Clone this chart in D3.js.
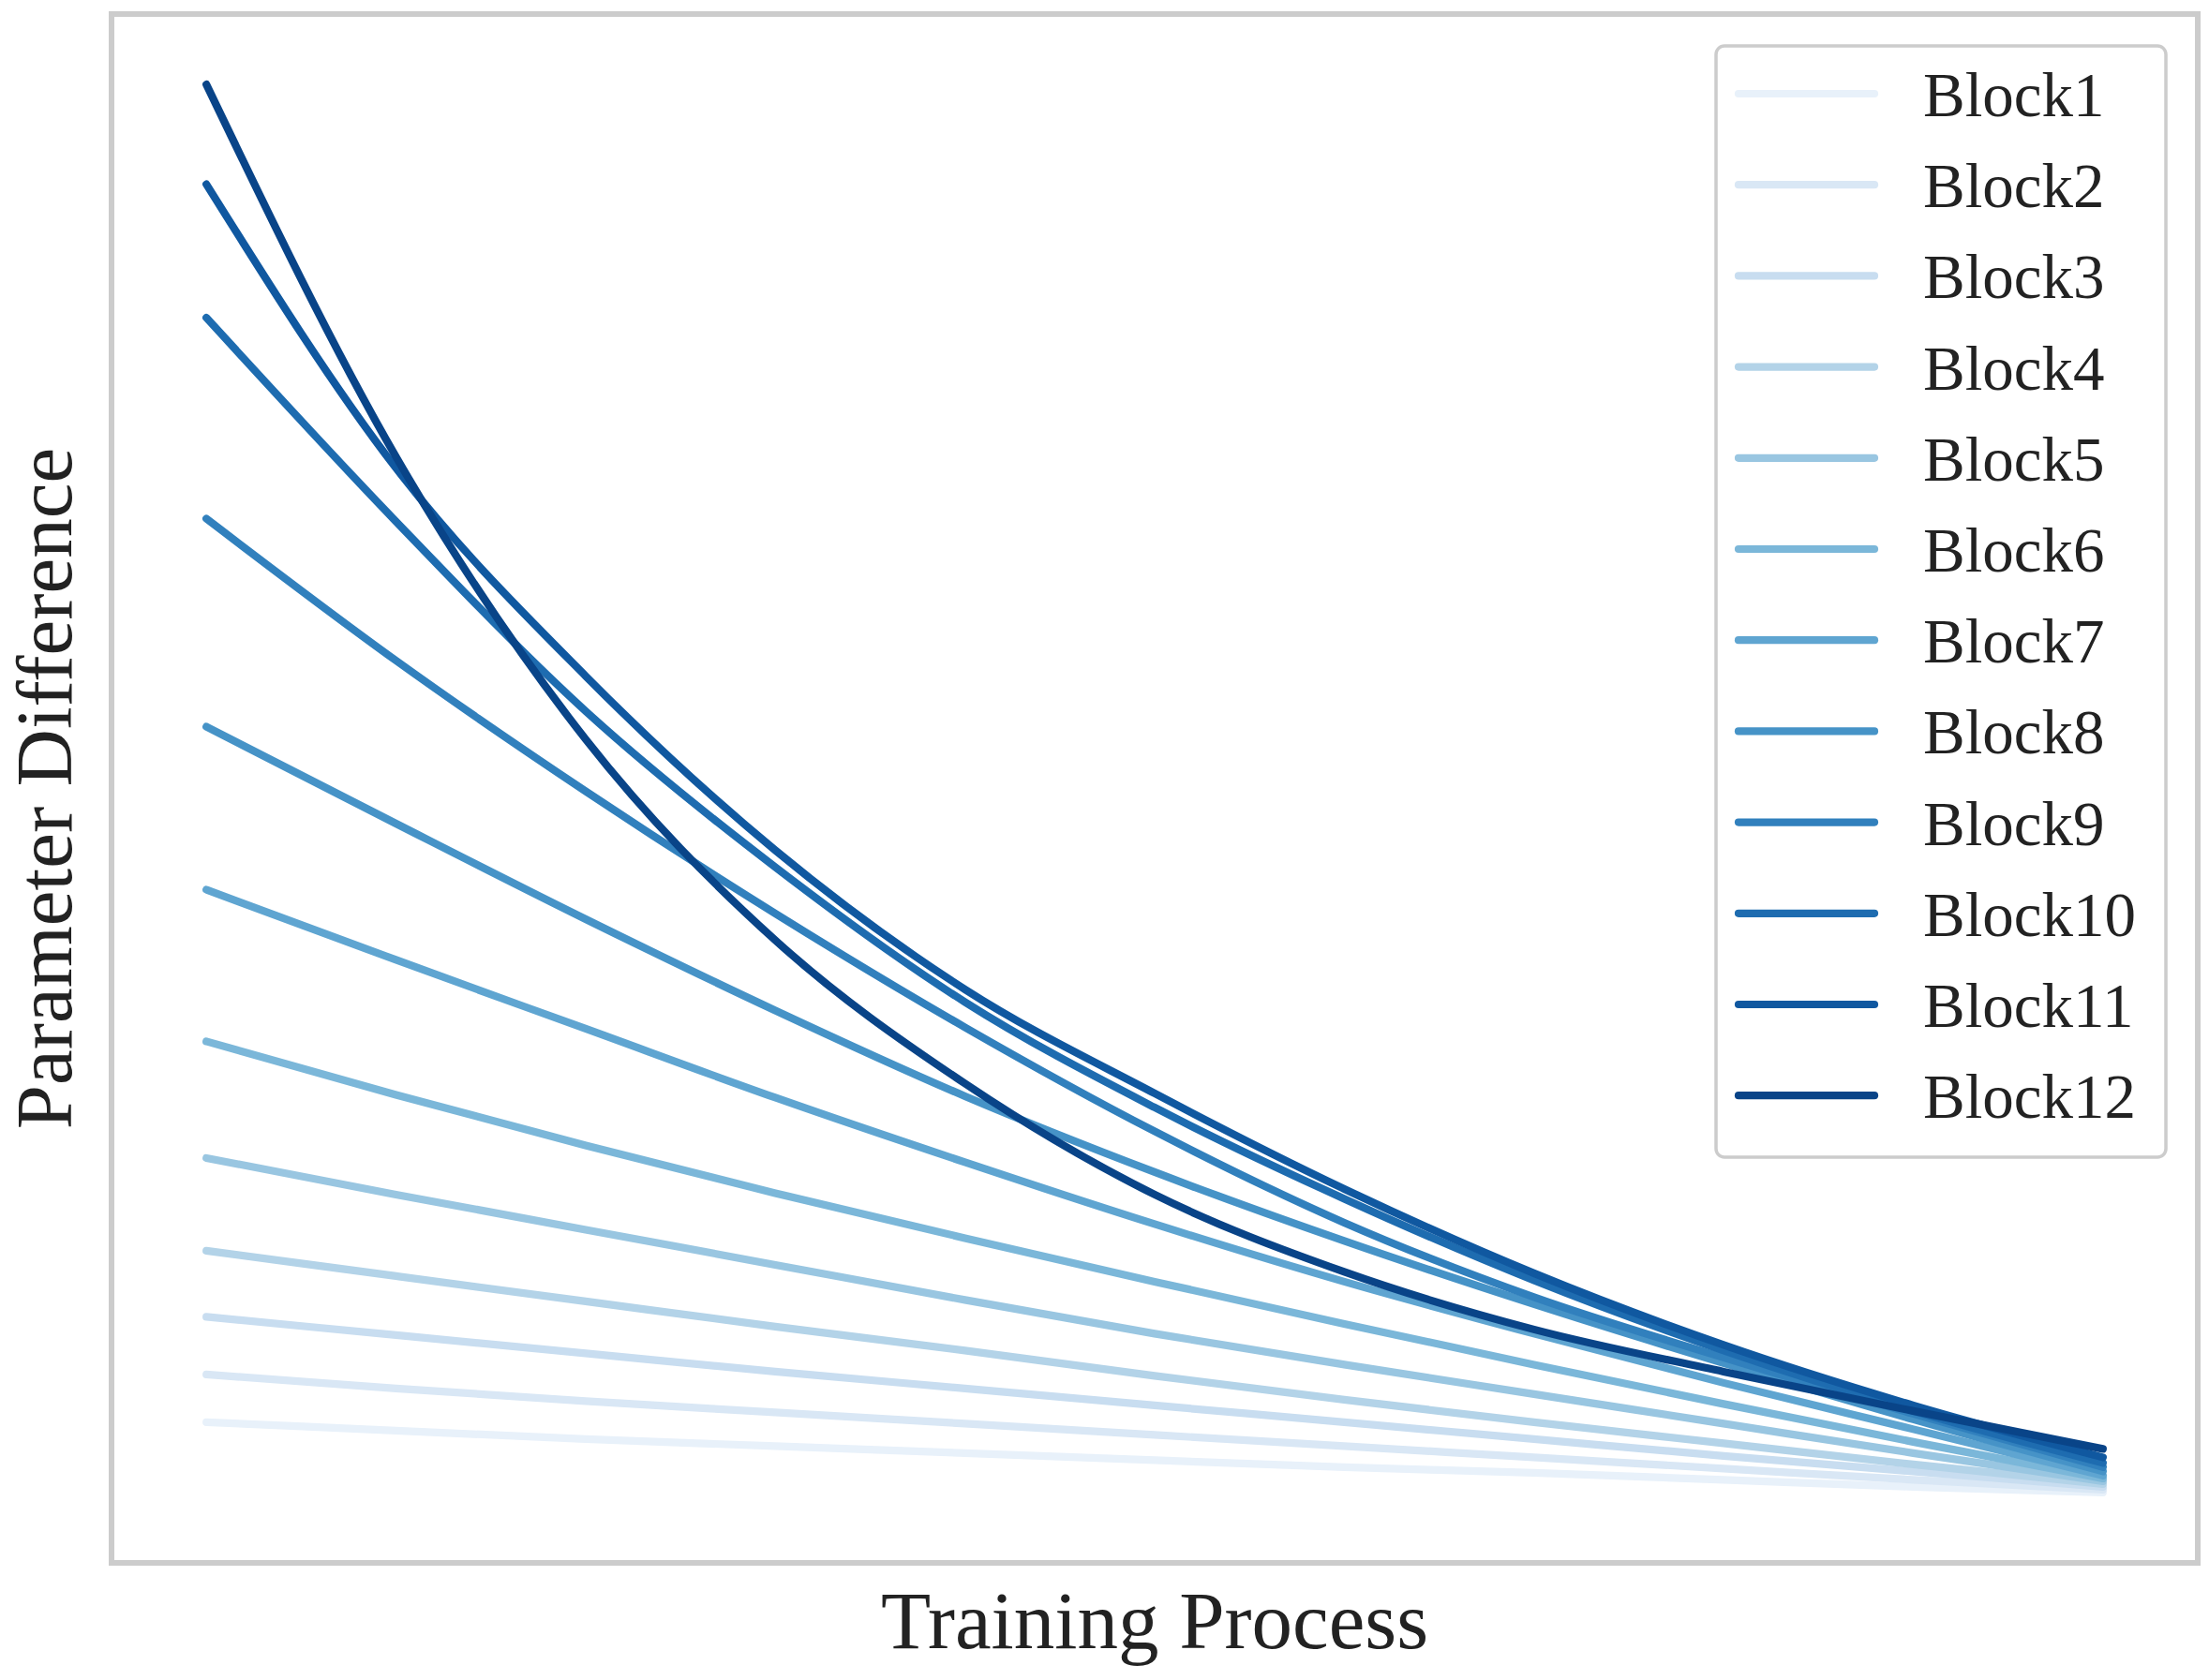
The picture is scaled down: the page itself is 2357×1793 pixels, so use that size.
<!DOCTYPE html>
<html>
<head>
<meta charset="utf-8">
<script src="https://cdn.jsdelivr.net/npm/d3@7"></script>
<style>
  html, body { margin: 0; padding: 0; background: #ffffff; }
  svg { display: block; }
</style>
</head>
<body>
<svg id="chart" width="2357" height="1793"></svg>
<script>
// ---------------- data ----------------
const steps = [0, 10, 20, 30, 40, 50, 60, 70, 80, 90, 100];
const seriesNames = ["Block1","Block2","Block3","Block4","Block5","Block6",
                     "Block7","Block8","Block9","Block10","Block11","Block12"];
const block1  = [0.068, 0.062, 0.056, 0.051, 0.046, 0.041, 0.036, 0.032, 0.027, 0.022, 0.018];
const block2  = [0.102, 0.092, 0.083, 0.075, 0.067, 0.059, 0.051, 0.043, 0.035, 0.027, 0.020];
const block3  = [0.143, 0.130, 0.117, 0.104, 0.092, 0.080, 0.068, 0.056, 0.044, 0.033, 0.022];
const block4  = [0.190, 0.172, 0.154, 0.136, 0.119, 0.101, 0.084, 0.068, 0.053, 0.038, 0.024];
const block5  = [0.256, 0.230, 0.205, 0.180, 0.155, 0.131, 0.109, 0.088, 0.067, 0.046, 0.026];
const block6  = [0.339, 0.301, 0.265, 0.231, 0.199, 0.168, 0.138, 0.109, 0.081, 0.054, 0.028];
const block7  = [0.447, 0.397, 0.348, 0.299, 0.253, 0.209, 0.168, 0.131, 0.096, 0.063, 0.030];
const block8  = [0.563, 0.494, 0.426, 0.361, 0.300, 0.246, 0.197, 0.152, 0.110, 0.070, 0.033];
const block9  = [0.711, 0.610, 0.517, 0.430, 0.349, 0.275, 0.210, 0.157, 0.114, 0.074, 0.036];
const block10 = [0.854, 0.709, 0.574, 0.463, 0.367, 0.292, 0.227, 0.169, 0.119, 0.076, 0.039];
const block11 = [0.949, 0.747, 0.599, 0.475, 0.376, 0.302, 0.234, 0.174, 0.123, 0.080, 0.043];
const block12 = [1.020, 0.755, 0.554, 0.411, 0.309, 0.230, 0.175, 0.134, 0.104, 0.076, 0.049];
const xLabel = "Training Process";
const yLabel = "Parameter Difference";

const allSeries = [block1, block2, block3, block4, block5, block6,
                   block7, block8, block9, block10, block11, block12];
const series = seriesNames.map((name, i) => ({
  name,
  values: steps.map((s, j) => ({ x: s, y: allSeries[i][j] }))
}));

// ---------------- layout ----------------
const frame = { left: 119, top: 15, right: 2345, bottom: 1668 };
const FONT = "'Liberation Serif', 'Times New Roman', 'DejaVu Serif', serif";
const TEXT_COLOR = "#222222";
const LINE_W = 8.2;

const svg = d3.select("#chart");

// matplotlib-like 5% margins
const xExt = d3.extent(steps);
const xPad = (xExt[1] - xExt[0]) * 0.05;
const yMin = d3.min(allSeries, a => d3.min(a));
const yMax = d3.max(allSeries, a => d3.max(a));
const yPad = (yMax - yMin) * 0.05;

const x = d3.scaleLinear()
  .domain([xExt[0] - xPad, xExt[1] + xPad])
  .range([frame.left, frame.right]);
const y = d3.scaleLinear()
  .domain([yMin - yPad, yMax + yPad])
  .range([frame.bottom, frame.top]);

const color = d3.scaleOrdinal()
  .domain(seriesNames)
  .range(seriesNames.map((_, i) => d3.interpolateBlues((i + 1) / (seriesNames.length + 1))));

// ---------------- lines ----------------
const line = d3.line()
  .x(d => x(d.x))
  .y(d => y(d.y))
  .curve(d3.curveMonotoneX);

svg.append("g")
  .selectAll("path")
  .data(series)
  .join("path")
  .attr("d", d => line(d.values))
  .attr("fill", "none")
  .attr("stroke", d => color(d.name))
  .attr("stroke-width", LINE_W)
  .attr("stroke-linecap", "round")
  .attr("stroke-linejoin", "round");

// ---------------- frame (spines) ----------------
svg.append("rect")
  .attr("x", frame.left)
  .attr("y", frame.top)
  .attr("width", frame.right - frame.left)
  .attr("height", frame.bottom - frame.top)
  .attr("fill", "none")
  .attr("stroke", "#cccccc")
  .attr("stroke-width", 6);

// ---------------- axis labels ----------------
svg.append("text")
  .attr("x", (frame.left + frame.right) / 2)
  .attr("y", 1759)
  .attr("text-anchor", "middle")
  .attr("font-family", FONT)
  .attr("font-size", 87)
  .attr("fill", TEXT_COLOR)
  .text(xLabel);

svg.append("text")
  .attr("transform", `translate(76, ${(frame.top + frame.bottom) / 2}) rotate(-90)`)
  .attr("text-anchor", "middle")
  .attr("font-family", FONT)
  .attr("font-size", 85)
  .attr("fill", TEXT_COLOR)
  .text(yLabel);

// ---------------- legend ----------------
const legend = { left: 1831, top: 49, right: 2311, bottom: 1235,
                 firstRow: 100, rowStep: 97.2,
                 lineX0: 1855, lineX1: 2000, textX: 2052 };

const lg = svg.append("g");
lg.append("rect")
  .attr("x", legend.left)
  .attr("y", legend.top)
  .attr("width", legend.right - legend.left)
  .attr("height", legend.bottom - legend.top)
  .attr("rx", 9)
  .attr("fill", "#ffffff")
  .attr("fill-opacity", 0.85)
  .attr("stroke", "#cccccc")
  .attr("stroke-width", 3.5);

const rows = lg.selectAll("g.row")
  .data(seriesNames)
  .join("g")
  .attr("class", "row")
  .attr("transform", (d, i) => `translate(0, ${legend.firstRow + i * legend.rowStep})`);

rows.append("line")
  .attr("x1", legend.lineX0)
  .attr("x2", legend.lineX1)
  .attr("y1", 0)
  .attr("y2", 0)
  .attr("stroke", d => color(d))
  .attr("stroke-width", LINE_W)
  .attr("stroke-linecap", "round");

rows.append("text")
  .attr("x", legend.textX)
  .attr("y", 24)
  .attr("font-family", FONT)
  .attr("font-size", 67)
  .attr("fill", TEXT_COLOR)
  .text(d => d);
</script>
</body>
</html>
